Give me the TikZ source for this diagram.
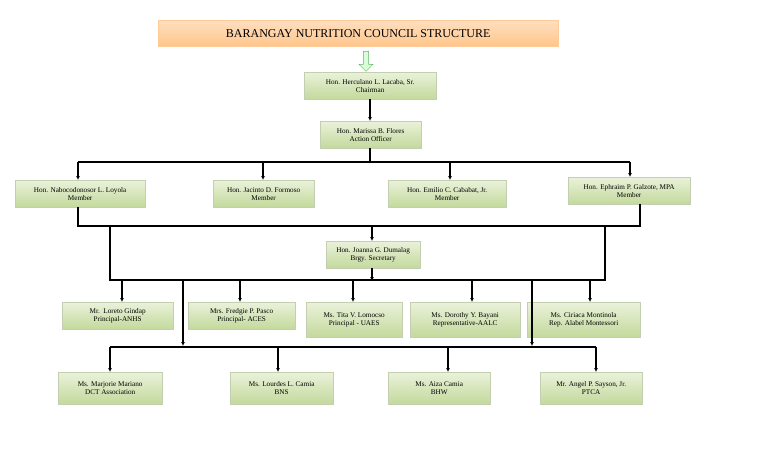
\documentclass[tikz,border=0pt]{standalone}
\usepackage{fontspec}
\setmainfont{Liberation Serif}
\usetikzlibrary{arrows.meta,shadows,shapes.arrows}
\definecolor{gtop}{HTML}{EAF2DA}
\definecolor{gbot}{HTML}{C3D99C}
\tikzset{
 box/.style={draw=gbot!80!black!60,line width=0.3pt,top color=gtop,bottom color=gbot,drop shadow={opacity=0.25,shadow xshift=1pt,shadow yshift=-1pt},inner sep=0pt,font=\fontsize{7.2}{8}\selectfont,align=center,anchor=north west},
 ln/.style={line width=1.3pt},
 ar/.style={line width=1.3pt,-{Latex[length=4pt,width=4pt]}}
}
\newcommand{\bx}[6]{\node[box,minimum width=#4-#2,minimum height=#5-#3] (#1) at (#2,#3) {#6};}
\begin{document}
\begin{tikzpicture}[x=1pt,y=-1pt]
\useasboundingbox (0,0) rectangle (768,466);
\node[anchor=north west,minimum width=400,minimum height=26,inner sep=0pt,top color=orange!25,bottom color=orange!45,draw=orange!40,font=\fontsize{12}{14}\selectfont] (title) at (158,20) {BARANGAY NUTRITION COUNCIL STRUCTURE};
\node[single arrow,draw=green!50!black!60,fill=green!15,shape border rotate=270,minimum height=20,minimum width=14,single arrow head extend=2pt,inner sep=1pt] (garrow) at (366,60) {};
\bx{ch}{304}{72}{436}{99}{Hon. Herculano L. Lacaba, Sr.\\Chairman}
\bx{ao}{320}{121}{421}{148}{Hon. Marissa B. Flores\\Action Officer}
\bx{m1}{15}{180}{145}{207}{Hon. Nabocodonosor L. Loyola\\Member}
\bx{m2}{213}{180}{314}{207}{Hon. Jacinto D. Formoso\\Member}
\bx{m3}{388}{180}{506}{207}{Hon. Emilio C. Cababat, Jr.\\Member}
\bx{m4}{568}{177}{690}{204}{Hon. Ephraim P. Galzote, MPA\\Member}
\bx{sec}{326}{241}{420}{268}{Hon. Joanna G. Dumalag\\Brgy. Secretary}
\bx{r1}{62}{302}{173}{329}{Mr.\ \ Loreto Gindap\\Principal-ANHS}
\bx{r2}{188}{302}{295}{329}{Mrs. Fredgie P. Pasco\\Principal- ACES}
\bx{r3}{306}{302}{402}{337}{Ms. Tita V. Lomocso\\Principal - UAES}
\bx{r4}{410}{302}{520}{337}{Ms. Dorothy Y. Bayani\\Representative-AALC}
\bx{r5}{527}{302}{640}{337}{Ms. Ciriaca Montinola\\Rep. Alabel Montessori}
\bx{b1}{58}{372}{162}{404}{Ms. Marjorie Mariano\\DCT Association}
\bx{b2}{230}{372}{333}{404}{Ms. Lourdes L. Camia\\BNS}
\bx{b3}{388}{372}{490}{404}{Ms. Aiza Camia\\BHW}
\bx{b4}{540}{372}{642}{404}{Mr. Angel P. Sayson, Jr.\\PTCA}
% chairman to action officer
\draw[ar] (ch.south -| 370,0) -- (ao.north -| 370,0);
% action officer to members
\coordinate (t1) at (370,162);
\draw[ln] (ao.south -| t1) -- (t1);
\draw[ln] (78,162) -- (630,162);
\draw[ar] (78,162) -- (m1.north -| 78,0);
\draw[ar] (263,162) -- (m2.north -| 263,0);
\draw[ar] (450,162) -- (m3.north -| 450,0);
\draw[ar] (630,162) -- (m4.north -| 630,0);
% members to secretary
\draw[ln] (m1.south -| 78,0) -- (78,226) -- (640,226) -- (m4.south -| 640,0);
\draw[ar] (372,226) -- (sec.north -| 372,0);
\draw[ln] (110,226) -- (110,280) -- (605,280) -- (605,226);
\draw[ar] (sec.south -| 372,0) -- (372,281);
\draw[ar] (122,280) -- (r1.north -| 122,0);
\draw[ar] (240,280) -- (r2.north -| 240,0);
\draw[ar] (353,280) -- (r3.north -| 353,0);
\draw[ar] (472,280) -- (r4.north -| 472,0);
\draw[ar] (590,280) -- (r5.north -| 590,0);
\draw[ar] (183,280) -- (183,346);
\draw[ar] (532,280) -- (532,346);
\draw[ln] (110,347) -- (596,347);
\draw[ar] (110,347) -- (b1.north -| 110,0);
\draw[ar] (278,347) -- (b2.north -| 278,0);
\draw[ar] (448,347) -- (b3.north -| 448,0);
\draw[ar] (596,347) -- (b4.north -| 596,0);
\end{tikzpicture}
\end{document}
